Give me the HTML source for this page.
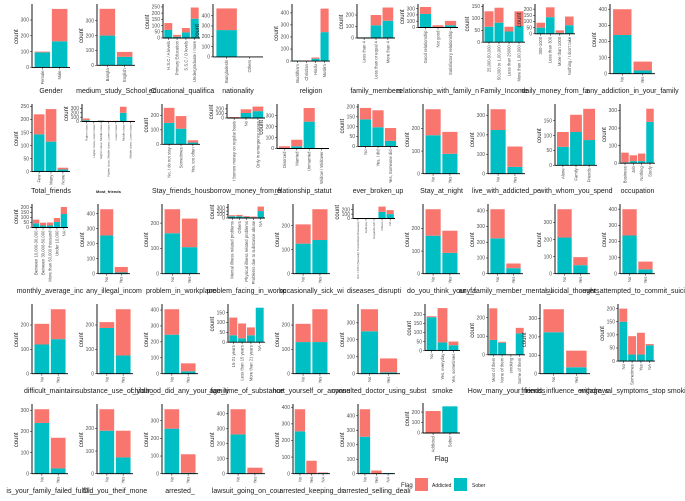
<!DOCTYPE html>
<html><head><meta charset="utf-8">
<style>
html,body{margin:0;padding:0;background:#fff;}
svg{display:block;font-family:"Liberation Sans",Arial,sans-serif;}
</style></head>
<body>
<svg id="chart" width="685" height="501" viewBox="0 0 685 501" xmlns="http://www.w3.org/2000/svg">
<g id="panels"></g>
<g id="legend">
  <text x="401" y="487" font-size="6" fill="#222">Flag</text>
  <rect x="415" y="478" width="13" height="13" fill="#F8766D"/>
  <text x="432" y="487" font-size="5" fill="#222">Addicted</text>
  <rect x="454" y="478" width="13" height="13" fill="#00BFC4"/>
  <text x="472" y="487" font-size="5" fill="#222">Sober</text>
</g>
</svg>
<script>
const panelTitles = ["Gender","medium_study_School_C","educational_qualifica","nationality","religion","family_members","relationship_with_family_n","Family_Income","daily_money_from_fa","any_addiction_in_your_family",
"Total_friends","Most_friends","Stay_friends_hous","borrow_money_from_fr","relationship_statut","ever_broken_up","Stay_at_night","live_with_addicted_pe","with_whom_you_spend","occupation",
"monthly_average_inc","any_illegal_incom","problem_in_workplace","problem_facing_in_workp","occasionally_sick_wi","diseases_disrupti","do_you_think_your_fa","any_family_member_mental_l","suicidal_thoughts","ever_attempted_to_commit_suicide",
"difficult_maintain","substance_use_of_your_","childhood_did_any_your_family","age_time_of_substance","hurt_yourself_or_anyone","consulted_doctor_using_subst","smoke","How_many_your_friends","friends_influence_engage_s","withdrawal_symptoms_stop smoking",
"is_your_family_failed_fulfill_","Did_you_theif_mone","arrested_","lawsuit_going_on_cou","arrested_keeping_dr","arrested_selling_deali","Flag"];
const NY = ["No","Yes"];
const panelCats = [
["Female","Male"],["Bangla","English"],["H.S.C / A levels","Primary Education","S.S.C / O levels","Undergraduate / more"],["Bangladeshi","Others"],["Buddhism","Christian","Hindu","Muslim"],["Less than 4","Less than or equal 4","More than 4"],["Good relationship","Not good","Satisfactory relationship"],["25,000-50,000","50,000 to 1,00,000","Less than 25000","More than 1,00,000"],["300-1000","Less than 300","More than 1000","Nothing / I don't take"],NY,
["Few","Many","None"],["Higher class","Higher class, lower class","Higher class, Middle class","Higher class, Middle class, Lower class","Lower class","Middle class","Middle class, Lower class"],["No, I do not stay","Sometimes","Yes, too often"],["I borrow money on regular basis","No","Only in emergency cases"],["Divorced","Married","Unmarried","Widow / Widower"],["No","Yes, I did","Yes, Someone did"],NY,NY,["Alone","Family","Friends"],["Business","Job","Nothing","Study"],
["Between 10,000-30,000","Between 30,000-50,000","More than 50,000 thousand","Under 10,000","NA"],NY,NY,["Mental illness related problems","Others","Physical illness related problems","Problems due to substance abuse","NA"],NY,["HIV / STD (Sexually Transmitted Diseases)","Epilepsy","Hepatitis A/C","Others","NA"],NY,NY,NY,NY,
NY,NY,NY,["15-21 years","Less than 15 years","More than 21 years","NA"],NY,NY,["No","Yes, everyday","Yes, sometimes"],["Most of them","None of them","smoking","Some of them"],NY,["No","Sometimes","Yes","NA"],
NY,NY,NY,NY,["No","Yes","NA"],["No","Yes","NA"],["Addicted","Sober"]];
const soberCounts = [
[95,165],[200,57],[65,10,45,155],[260,0],[5,0,20,240],[5,110,150],[215,10,35],[65,82,45,68],[50,135,8,70],[240,20],
[143,115,8],[30,3,20,10,10,200,10],[148,108,12],[5,110,150],[5,20,245,2],[137,97,28],[170,88],[225,35],[62,112,85],[5,12,12,235],
[42,20,20,55,135],[255,8],[160,105],[50,50,30,20,200],[125,140],[0,3,0,150,100],[168,92],[225,35],[212,50],[237,27],
[120,142],[188,75],[245,15],[35,20,35,175],[130,130],[250,8],[185,45,30],[80,65,2,115],[225,35],[150,25,25,60],
[240,25],[190,72],[255,5],[262,3],[255,0,5],[255,0,5],[0,255]];
const addictedCounts = [
[5,205],[180,33],[55,15,35,90],[210,3],[0,5,10,195],[0,90,115],[110,25,70],[65,63,20,62],[40,80,20,70],[160,55],
[77,125,7],[40,2,5,5,5,140,5],[104,87,16],[15,80,100],[15,60,125,1],[58,86,65],[115,97],[107,105],[50,58,105],[55,33,43,75],
[36,28,30,40,70],[175,37],[95,113],[30,40,25,20,130],[80,128],[3,7,3,120,90],[117,98],[185,30],[166,47],[163,48],
[85,123],[24,190],[160,50],[90,75,40,0],[75,135],[130,82],[5,190,20],[170,5,0,30],[125,90],[50,70,83,5],
[65,145],[95,118],[110,105],[168,37],[133,78,3],[190,22,0],[210,0]];

// layout (positions only)
const rowX = [
[32,97,163,213,292,357,418,483,535,610],
[32,82,162,227,277,358,423,488,555,620],
[32,98,162,228,293,353,423,488,555,620],
[32,97,162,228,293,358,425,488,540,618],
[32,97,162,228,293,358,423]];
const rowW = [
[38,38,37,50,38,38,40,42,40,45],
[38,53,38,38,52,40,37,37,42,35],
[36,32,38,37,37,42,37,35,35,35],
[36,36,36,37,37,42,35,37,50,37],
[36,36,36,37,37,37,37]];

const RED="#F8766D", TEAL="#00BFC4", NS="http://www.w3.org/2000/svg";
const root=document.getElementById('panels');
function mk(tag,attrs,parent){const e=document.createElementNS(NS,tag);for(const k in attrs)e.setAttribute(k,attrs[k]);(parent||root).appendChild(e);return e;}

panelTitles.forEach((title,i)=>{
  const r=Math.floor(i/10), c=i%10;
  const isFlag = i===46;
  const g=mk('g',{});
  
  
  const cats=panelCats[i], sob=soberCounts[i], add=addictedCounts[i];
  const n=cats.length;
  const x0=rowX[r][c], w=rowW[r][c];
  const titleY = isFlag ? 461 : 93+100*r;
  const top = isFlag ? 405 : 100*r+6;
  const maxLen=Math.max(...cats.map(s=>s.length));
  const fs = maxLen>35?3:4.2;
  const span = maxLen*fs*0.5;
  let bottom = titleY-10-span-3;
  if(isFlag) bottom=433;
  if(bottom<top+12) bottom=top+12;
  const totals=sob.map((s,k)=>s+add[k]);
  const lim=Math.max(...totals)*1.05;
  const y=v=>bottom-(v/lim)*(bottom-top);
  const band=w/(n+0.2);
  const xc=k=>x0+band*(k+0.6);
  cats.forEach((cat,k)=>{
    const bw=band*0.9, bx=xc(k)-bw/2;
    if(sob[k]>0){
      const b=mk('rect',{x:bx,y:y(sob[k]),width:bw,height:bottom-y(sob[k]),fill:TEAL},g);
      
      
    }
    if(add[k]>0){
      const b=mk('rect',{x:bx,y:y(sob[k]+add[k]),width:bw,height:y(sob[k])-y(sob[k]+add[k]),fill:RED},g);
      
      
    }
    mk('line',{x1:xc(k),x2:xc(k),y1:bottom,y2:bottom+2,stroke:'#333','stroke-width':0.6},g);
    const t=mk('text',{x:0,y:0,'font-size':fs,fill:'#4d4d4d','text-anchor':'end',transform:`translate(${xc(k)+fs*0.35},${bottom+3}) rotate(-90)`},g);
    t.textContent=cat;
    
    
  });
  const step = lim<=80?20:(lim<=260?50:100);
  let maxTick=0;
  for(let v=0; v<=lim; v+=step){
    mk('line',{x1:x0-2,x2:x0,y1:y(v),y2:y(v),stroke:'#333','stroke-width':0.6},g);
    const t=mk('text',{x:x0-3,y:y(v)+1.7,'font-size':5,fill:'#4d4d4d','text-anchor':'end'},g);
    t.textContent=v;
    
    
    maxTick=Math.max(maxTick,String(v).length);
  }
  const ya=mk('line',{x1:x0,x2:x0,y1:top-2,y2:bottom,stroke:'#000','stroke-width':0.9},g);
  
  
  const xa=mk('line',{x1:x0,x2:x0+w,y1:bottom,y2:bottom,stroke:'#000','stroke-width':0.9},g);
  
  
  const cy=(top+bottom)/2, cx=x0-6-maxTick*2.7;
  const yl=mk('text',{x:0,y:0,'font-size':6,fill:'#222','text-anchor':'middle',transform:`translate(${cx},${cy}) rotate(-90)`},g);
  yl.textContent='count';
  
  
  const isSmall = title==='Most_friends';
  const tt=mk('text',{x:x0+w/2,y:titleY,'font-size':isSmall?4:7,'font-weight':isSmall?'bold':'normal',fill:'#1a1a1a','text-anchor':'middle'},g);
  tt.textContent=title;
  
  
});
</script>
</body></html>
